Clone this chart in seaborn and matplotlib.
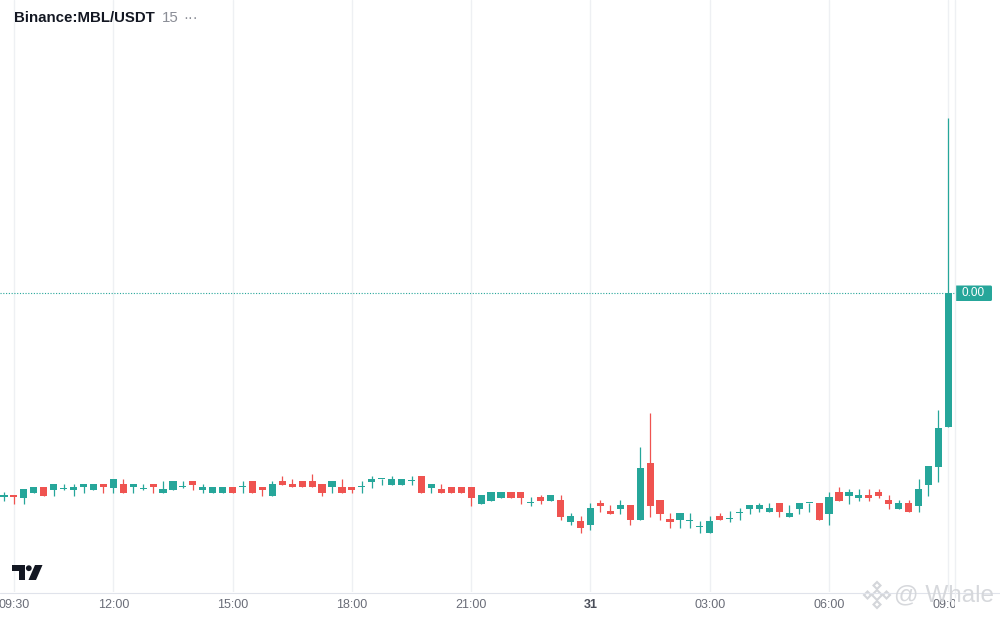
import numpy as np
import pandas as pd
import matplotlib.pyplot as plt
import matplotlib.patches as mpatches
from matplotlib.transforms import Bbox, TransformedBbox, blended_transform_factory
import seaborn as sns

sns.set_theme(style="white")
plt.rcParams["font.family"] = ["Liberation Sans", "DejaVu Sans"]

# 15 minute candles, 30th 09:15 -> 31st 09:00, prices in units of 0.00001 USDT
PRICE_UNIT = 1e-5
open_ = [123, 125, 122, 127, 133, 130, 131, 130, 133, 130,
         136, 132, 136, 133, 131, 136, 127, 130, 133, 139,
         130, 127, 127, 133, 133, 139, 133, 124, 139, 136,
         139, 139, 136, 133, 133, 133, 133, 138, 141, 135,
         135, 139, 144, 132, 131, 133, 133, 133, 116, 119,
         122, 128, 128, 117, 123, 119, 120, 98, 99, 95,
         117, 109, 111, 115, 100, 157, 120, 101, 100, 99,
         93, 87, 104, 101, 107, 111, 111, 108, 117, 103,
         111, 117, 117, 106, 128, 124, 122, 125, 128, 120,
         111, 117, 114, 135, 153, 193]
high = [128, 125, 131, 133, 133, 136, 136, 136, 136, 136,
        136, 141, 141, 136, 136, 136, 139, 139, 139, 139,
        136, 133, 133, 133, 139, 139, 133, 139, 144, 141,
        139, 146, 136, 139, 141, 133, 139, 144, 141, 144,
        141, 144, 144, 136, 136, 133, 133, 133, 125, 128,
        128, 128, 128, 123, 125, 125, 125, 107, 104, 117,
        120, 115, 120, 115, 173, 207, 120, 107, 107, 107,
        99, 104, 107, 109, 112, 115, 117, 117, 117, 115,
        117, 117, 117, 128, 133, 131, 131, 131, 131, 125,
        120, 120, 141, 154, 210, 502]
low = [119, 116, 116, 127, 124, 124, 130, 124, 127, 130,
       127, 127, 127, 127, 130, 127, 127, 130, 132, 130,
       127, 127, 127, 127, 127, 127, 124, 124, 135, 133,
       133, 133, 124, 127, 127, 127, 127, 132, 135, 135,
       135, 135, 127, 127, 127, 127, 127, 114, 116, 119,
       122, 122, 116, 114, 116, 119, 100, 95, 87, 90,
       108, 106, 106, 95, 100, 103, 100, 92, 92, 92,
       87, 87, 100, 98, 100, 106, 108, 108, 103, 103,
       106, 108, 100, 95, 119, 116, 119, 119, 122, 111,
       111, 108, 108, 124, 138, 193]
close = [125, 123, 131, 133, 124, 136, 131, 133, 136, 136,
         133, 141, 127, 136, 131, 133, 131, 139, 133, 135,
         133, 133, 133, 127, 133, 127, 130, 136, 135, 133,
         133, 133, 127, 139, 127, 130, 133, 141, 141, 141,
         141, 139, 127, 136, 127, 127, 127, 122, 125, 128,
         128, 122, 122, 117, 119, 125, 103, 104, 92, 112,
         114, 106, 115, 100, 152, 114, 106, 98, 107, 99,
         93, 99, 100, 101, 107, 115, 115, 112, 108, 107,
         117, 117, 100, 123, 119, 128, 125, 122, 124, 116,
         117, 108, 131, 154, 192, 327]

tick_idx = [1, 11, 23, 35, 47, 59, 71, 83, 95]
tick_labels = ["09:30", "12:00", "15:00", "18:00", "21:00", "31", "03:00", "06:00", "09:00"]

UP, DOWN = "#26a69a", "#ef5350"
GRID = "#eef0f3"

df = pd.DataFrame({"open": open_, "high": high, "low": low, "close": close}) * PRICE_UNIT
df["x"] = np.arange(len(df))
df["up"] = df["close"] >= df["open"]
colors = np.where(df["up"], UP, DOWN)

W, H = 1000, 620
fig = plt.figure(figsize=(W / 100, H / 100), dpi=100)
fig.patch.set_facecolor("white")

ax = fig.add_axes([0, 28 / H, 955 / W, 592 / H])
ax.set_xlim(-0.40, 95.67)
ax.set_ylim(28 * PRICE_UNIT, 620 * PRICE_UNIT)

for x in tick_idx:
    ax.axvline(x, color=GRID, linewidth=1, zorder=0)

# wicks and bodies
ax.vlines(df["x"], df["low"], df["high"], colors=colors, linewidth=0.9, zorder=2)
body_h = (df["close"] - df["open"]).abs().clip(lower=0.9 * PRICE_UNIT)
ax.bar(df["x"], body_h, bottom=df[["open", "close"]].min(axis=1), width=0.72,
       color=colors, linewidth=0, zorder=3)

last = df["close"].iloc[-1]
ax.axhline(last, color=UP, linestyle=(0, (1, 1.5)), linewidth=0.8, zorder=1)

ax.set_xticks([])
ax.set_yticks([])
for s in ax.spines.values():
    s.set_visible(False)

# overlay in pixel coordinates for chrome
ov = fig.add_axes([0, 0, 1, 1], facecolor="none")
ov.set_xlim(0, W)
ov.set_ylim(H, 0)
ov.axis("off")

ov.plot([0, W], [592.5, 592.5], color="#e0e3eb", linewidth=0.8)
ov.plot([954.5, 954.5], [0, 597], color=GRID, linewidth=1)

# time labels, clipped at the price scale like the original
trans = blended_transform_factory(ax.transData, ov.transData)
clip = TransformedBbox(Bbox([[0, 0], [955, H]]), ov.transData)
for x, lab in zip(tick_idx, tick_labels):
    t = ov.text(x, 605, lab, transform=trans, ha="center", va="center", fontsize=9,
                color="#4a4e59" if lab == "31" else "#6a6d78",
                fontweight="bold" if lab == "31" else "normal")
    t.set_clip_box(clip)
    t.set_clip_on(True)

# price tag
ov.add_patch(mpatches.FancyBboxPatch((955, 285.5), 37, 15.5, boxstyle="round,pad=0,rounding_size=1.5",
                                     facecolor=UP, edgecolor="none"))
ov.text(973.5, 293.5, f"{last:.2f}", ha="center", va="center", fontsize=8.5, color="white")

# title
ov.text(14, 18, "Binance:MBL/USDT", ha="left", va="center", fontsize=10.8,
        fontweight="bold", color="#131722")
ov.text(162, 18, "15", ha="left", va="center", fontsize=10.8, color="#8a8d96")
ov.text(183, 18, "···", ha="left", va="center", fontsize=10.8, color="#8a8d96")

# TradingView logo
ink = "#131722"
ov.add_patch(mpatches.Polygon([(12, 565), (25, 565), (25, 580), (19, 580), (19, 571), (12, 571)],
                              closed=True, facecolor=ink, edgecolor="none"))
ov.add_patch(mpatches.Circle((28.8, 568.2), 2.9, facecolor=ink, edgecolor="none"))
ov.add_patch(mpatches.Polygon([(35, 565), (42.5, 565), (36, 580), (28.5, 580)],
                              closed=True, facecolor=ink, edgecolor="none"))

# watermark
wm = "#d4d6da"
cx, cy = 877, 595
for dx, dy, r in [(0, 0, 5), (0, -9.5, 3.5), (0, 9.5, 3.5), (-9.5, 0, 3.5), (9.5, 0, 3.5)]:
    ov.add_patch(mpatches.Polygon([(cx + dx, cy + dy - r), (cx + dx + r, cy + dy),
                                   (cx + dx, cy + dy + r), (cx + dx - r, cy + dy)],
                                  closed=True, facecolor="none", edgecolor=wm, linewidth=1.5))
ov.text(894, 595, "@ Whale", ha="left", va="center", fontsize=17.5, color=wm, alpha=0.95)

fig.savefig("out.png", dpi=100)
